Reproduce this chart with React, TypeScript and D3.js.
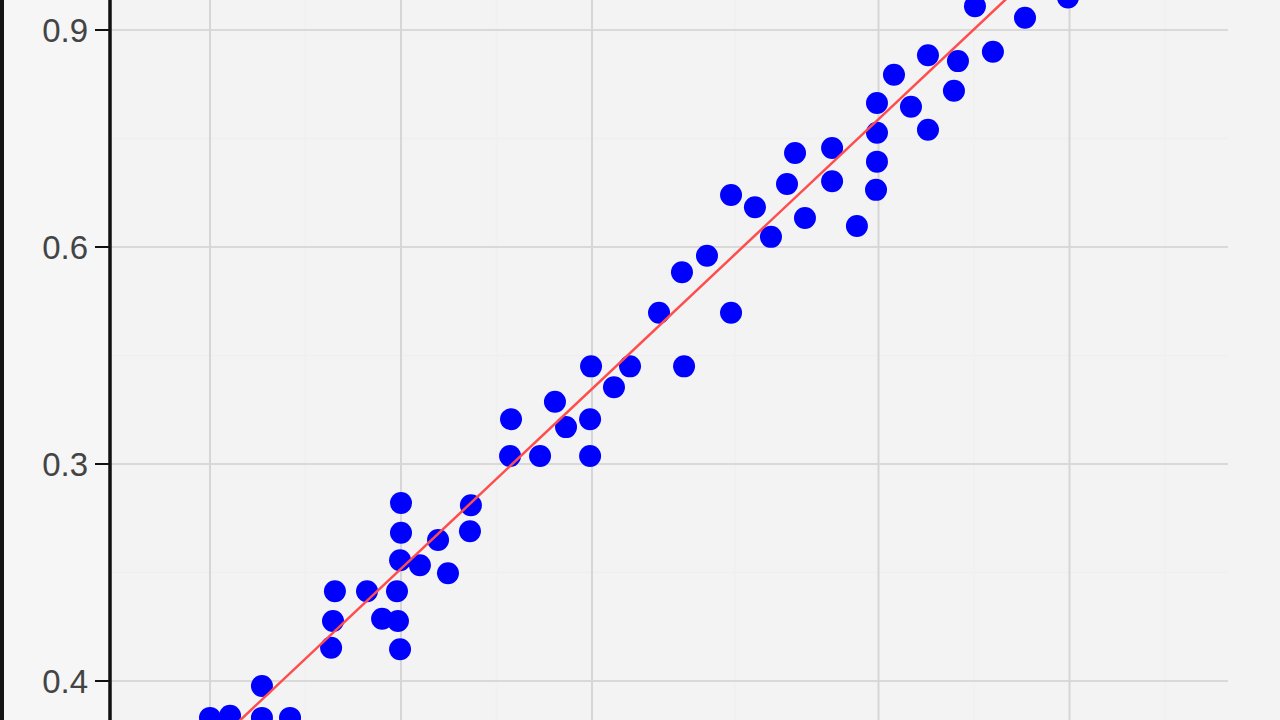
import React, {useEffect, useRef} from "react";
import * as d3 from "d3";

// scatter values (x in grid units, y in axis units)
const xValues = [
  1.0, 1.105, 1.272, 1.272, 1.419, 1.634, 1.644, 1.654, 1.822, 1.901, 1.979, 1.984,
  1.995, 1.995, 2.0, 2.0, 2.099, 2.194, 2.246, 2.361, 2.366, 2.571, 2.576, 2.728,
  2.806, 2.864, 2.99, 2.99, 2.995, 3.115, 3.199, 3.351, 3.482, 3.471, 3.602, 3.728,
  3.728, 3.853, 3.937, 4.021, 4.063, 4.115, 4.257, 4.257, 4.387, 4.487, 4.492, 4.492,
  4.492, 4.581, 4.67, 4.759, 4.759, 4.895, 4.916, 5.005, 5.099, 5.267, 5.492,
];
const yValues = [
  -0.051, -0.048, -0.007, -0.051, -0.051, 0.046, 0.083, 0.124, 0.124, 0.086, 0.124, 0.083,
  0.044, 0.167, 0.205, 0.246, 0.16, 0.195, 0.149, 0.207, 0.243, 0.311, 0.362, 0.311,
  0.386, 0.351, 0.362, 0.311, 0.435, 0.406, 0.435, 0.509, 0.435, 0.565, 0.588, 0.509,
  0.672, 0.655, 0.614, 0.687, 0.73, 0.64, 0.737, 0.691, 0.629, 0.679, 0.718, 0.758,
  0.799, 0.838, 0.794, 0.762, 0.865, 0.816, 0.857, 0.933, 0.87, 0.917, 0.945,
];

// fitted line
const FIT_SLOPE = 0.2486;
const FIT_INTERCEPT = -0.342;
const FIT_X = [1.1, 5.3];

const yTicks = [0.9, 0.6, 0.3, 0];
const yTickLabels = ["0.9", "0.6", "0.3", "0.4"];
const xGrid = [1, 2, 3, 4.5, 5.5];

const W = 1280;
const H = 720;
const LEFT = 110;
const RIGHT = 1228;

export default function App() {
  const ref = useRef<SVGSVGElement>(null);

  useEffect(() => {
    const svg = d3.select(ref.current);
    svg.selectAll("*").remove();

    const x = d3.scaleLinear().domain([1, 5.5]).range([210, 1069.5]);
    const y = d3.scaleLinear().domain([0.3, 0.6]).range([464, 247]);

    svg.append("rect").attr("width", W).attr("height", H).attr("fill", "#f6f6f6");
    svg.append("rect").attr("x", LEFT).attr("width", RIGHT - LEFT + 60).attr("height", H).attr("fill", "#f3f3f3");

    // barely visible minor grid
    const minorY = d3.range(-0.15, 1.0, 0.3);
    svg.selectAll(".minor-y").data(minorY).enter().append("line")
      .attr("x1", LEFT).attr("x2", RIGHT)
      .attr("y1", (d) => y(d)).attr("y2", (d) => y(d))
      .style("stroke", "#efefef").style("stroke-width", 1.5);
    const minorX = d3.pairs(xGrid).map(([a, b]) => (a + b) / 2).concat([6]);
    svg.selectAll(".minor-x").data(minorX).enter().append("line")
      .attr("x1", (d) => x(d)).attr("x2", (d) => x(d))
      .attr("y1", 0).attr("y2", H)
      .style("stroke", "#f0f0f0").style("stroke-width", 1.5);

    // major grid
    svg.selectAll(".grid-y").data(yTicks).enter().append("line")
      .attr("x1", LEFT).attr("x2", RIGHT)
      .attr("y1", (d) => y(d)).attr("y2", (d) => y(d))
      .style("stroke", "#d9d9d9").style("stroke-width", 2);
    svg.selectAll(".grid-x").data(xGrid).enter().append("line")
      .attr("x1", (d) => x(d)).attr("x2", (d) => x(d))
      .attr("y1", 0).attr("y2", H)
      .style("stroke", "#d6d6d6").style("stroke-width", 2);

    // points
    svg.selectAll(".dot").data(xValues).enter().append("circle")
      .attr("cx", (d) => x(d))
      .attr("cy", (_, i) => y(yValues[i]))
      .attr("r", 11)
      .attr("fill", "#0000ff");

    // fit line on top of points
    svg.append("line")
      .attr("x1", x(FIT_X[0])).attr("y1", y(FIT_SLOPE * FIT_X[0] + FIT_INTERCEPT))
      .attr("x2", x(FIT_X[1])).attr("y2", y(FIT_SLOPE * FIT_X[1] + FIT_INTERCEPT))
      .style("stroke", "#ff4d4d").style("stroke-width", 2.5);

    // y axis
    svg.append("line")
      .attr("x1", LEFT).attr("x2", LEFT).attr("y1", 0).attr("y2", H)
      .style("stroke", "#111").style("stroke-width", 3.5);
    svg.selectAll(".tick").data(yTicks).enter().append("line")
      .attr("x1", 95).attr("x2", LEFT)
      .attr("y1", (d) => y(d)).attr("y2", (d) => y(d))
      .style("stroke", "#111").style("stroke-width", 2);
    svg.selectAll(".label").data(yTicks).enter().append("text")
      .attr("x", 88)
      .attr("y", (d) => y(d) + 12)
      .attr("text-anchor", "end")
      .style("font-family", "'Liberation Sans', Arial, sans-serif")
      .style("font-size", "33px")
      .style("fill", "#444")
      .text((_, i) => yTickLabels[i]);

    // left frame edge
    svg.append("rect").attr("x", 0).attr("width", 4).attr("height", H).attr("fill", "#151515");
  }, []);

  return (
    <svg
      ref={ref}
      width={W}
      height={H}
      style={{position: "absolute", top: 0, left: 0}}
    />
  );
}
